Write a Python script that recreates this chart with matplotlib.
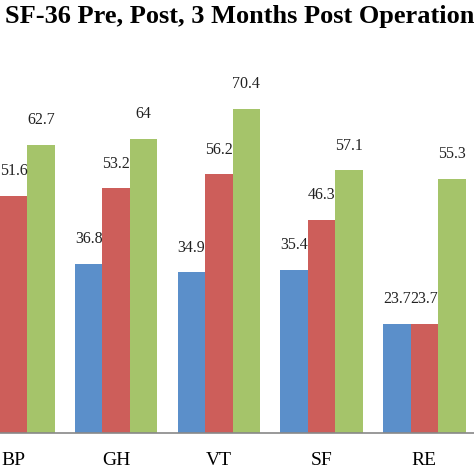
import numpy as np
import matplotlib.pyplot as plt

categories = ["BP", "GH", "VT", "SF", "RE"]
pre = [41.2, 36.8, 34.9, 35.4, 23.7]
post = [51.6, 53.2, 56.2, 46.3, 23.7]
post3 = [62.7, 64, 70.4, 57.1, 55.3]

colors = ["#5B8FCA", "#CD5E5A", "#A5C46A"]
serif = ["Liberation Serif", "DejaVu Serif"]

fig = plt.figure(figsize=(4.74, 4.74), dpi=100)
ax = fig.add_axes([0, 41 / 474, 1, 433 / 474])

x = np.arange(len(categories))
w = 0.268
for off, vals, c in zip([-w, 0, w], [pre, post, post3], colors):
    bars = ax.bar(x + off, vals, w, color=c)
    for b, v in zip(bars, vals):
        ax.annotate(f"{v:g}", (b.get_x() + b.get_width() / 2, v),
                    xytext=(0, 12), textcoords="offset points",
                    ha="center", va="bottom", fontsize=11.5,
                    family=serif, color="#222222")

step = 102.7
left = 0 - 13.5 / step
ax.set_xlim(left, left + 474 / step)
ax.set_ylim(0, 433 / 4.6)
for s in ["top", "right", "left"]:
    ax.spines[s].set_visible(False)
ax.spines["bottom"].set_color("#888888")
ax.spines["bottom"].set_linewidth(1.2)
ax.set_yticks([])
ax.set_xticks(x)
ax.set_xticklabels(categories, family=serif, fontsize=14)
ax.tick_params(axis="x", length=0, pad=14)

fig.text(0.505, 1 - 17 / 474, "SF-36 Pre, Post, 3 Months Post Operation",
         ha="center", va="center", fontsize=19, fontweight="bold",
         family=serif)

fig.savefig("out.png", dpi=100)
